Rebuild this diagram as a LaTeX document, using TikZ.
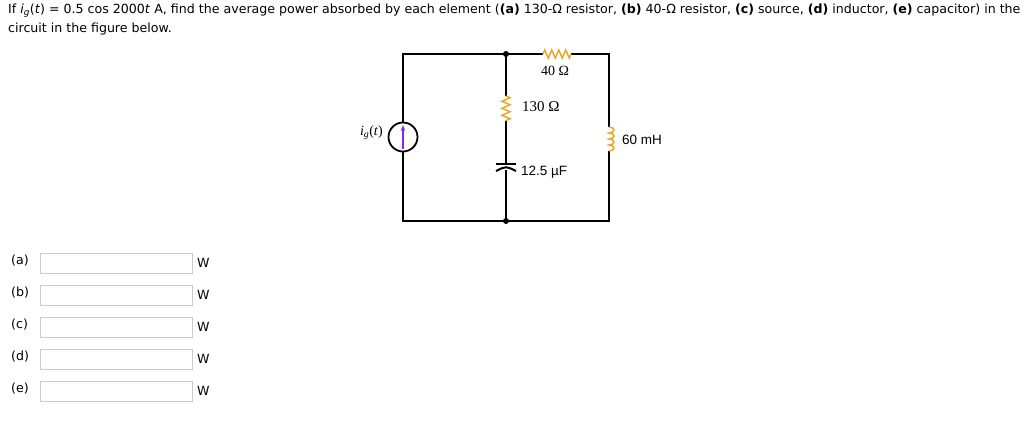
\documentclass[tikz,border=0pt]{standalone}
\usepackage{fontspec}
\setmainfont{DejaVu Sans}
\newfontfamily\serf{Liberation Serif}
\newfontfamily\arl{Liberation Sans}
\usetikzlibrary{decorations.pathmorphing,arrows.meta}
\definecolor{org}{RGB}{232,168,40}
\definecolor{pur}{RGB}{130,40,230}
\begin{document}
\begin{tikzpicture}[x=1pt,y=-1pt,
  wire/.style={line width=2pt},
  comp/.style={org,line width=1.5pt},
  ansbox/.style={draw=black!20,minimum width=152pt,minimum height=20pt,inner sep=0pt},
  txt/.style={font=\fontsize{12.6}{15}\selectfont,inner sep=0pt,anchor=west},
  clab/.style={inner sep=0pt,anchor=west}]
\useasboundingbox (0,0) rectangle (1024,426);
\node[txt] (t1) at (8,11) {If \textit{i}\textsubscript{\textit{g}}(\textit{t}) = 0.5 cos 2000\textit{t} A, find the average power absorbed by each element (\textbf{(a)} 130-Ω resistor, \textbf{(b)} 40-Ω resistor, \textbf{(c)} source, \textbf{(d)} inductor, \textbf{(e)} capacitor) in the};
\node[txt] (t2) at (8,29) {circuit in the figure below.};
\coordinate (tl) at (403,54); \coordinate (tm) at (506,54); \coordinate (tr) at (609,54);
\coordinate (bl) at (403,221); \coordinate (bm) at (506,221); \coordinate (br) at (609,221);
\node[draw,circle,line width=1.8pt,minimum size=29pt,inner sep=0pt] (src) at (403,137) {};
\coordinate (r1a) at (543,54); \coordinate (r1b) at (571,54);
\coordinate (r2a) at (506,96); \coordinate (r2b) at (506,121);
\coordinate (c1) at (506,164); \coordinate (c2) at (506,170);
\coordinate (l1) at (609,127); \coordinate (l2) at (609,151);
\draw[wire] (src.north) -- (tl) -- (tm) -- (r1a);
\draw[wire] (r1b) -- (tr) -- (l1);
\draw[wire] (l2) -- (br) -- (bm) -- (bl) -- (src.south);
\draw[wire] (tm) -- (r2a); \draw[wire] (r2b) -- (c1); \draw[wire] (c2) -- (bm);
\draw[comp,decorate,decoration={zigzag,segment length=7pt,amplitude=4pt}] (r1a) -- (r1b);
\draw[comp,decorate,decoration={zigzag,segment length=7pt,amplitude=4pt}] (r2a) -- (r2b);
\draw[wire] (496,164) -- (516,164);
\draw[wire] (496,171) .. controls (506,166) .. (516,171);
\draw[comp] (l1) arc[start angle=90,end angle=-90,x radius=5pt,y radius=3pt]
  arc[start angle=90,end angle=-90,x radius=5pt,y radius=3pt]
  arc[start angle=90,end angle=-90,x radius=5pt,y radius=3pt]
  arc[start angle=90,end angle=-90,x radius=5pt,y radius=3pt];
\draw[-{Stealth[length=6pt]},pur,line width=1.6pt] (403,149) -- (403,125);
\fill (tm) circle (3pt); \fill (bm) circle (3pt);
\node[clab,font=\serf\fontsize{14}{16}\selectfont,anchor=east] (lg) at (383,133) {\textit{i}\textsubscript{\textit{g}}(\textit{t})};
\node[clab,font=\serf\fontsize{14}{16}\selectfont] (l40) at (541,71) {40 Ω};
\node[clab,font=\serf\fontsize{15}{16}\selectfont] (l130) at (522,107) {130 Ω};
\node[clab,font=\arl\fontsize{13.5}{16}\selectfont] (lc) at (521,172) {12.5 µF};
\node[clab,font=\arl\fontsize{13.5}{16}\selectfont] (ll) at (622,140) {60 mH};
\foreach \l/\y in {a/263,b/295,c/327,d/359,e/391}{
  \node[txt] (q\l) at (11,\y-2) {(\l)};
  \node[ansbox] (b\l) at (116,\y) {};
  \node[txt] (w\l) at (197,\y) {W};
}
\end{tikzpicture}
\end{document}
